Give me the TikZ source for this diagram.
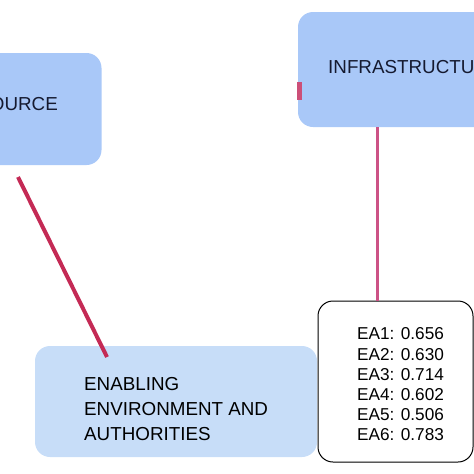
\documentclass[tikz,border=0pt]{standalone}
\usepackage{fontspec}
\setmainfont{Liberation Sans}
\definecolor{boxblue}{HTML}{A9C8F8}
\definecolor{boxlight}{HTML}{C7DDF8}
\definecolor{linecrim}{HTML}{C42A55}
\definecolor{linepink}{HTML}{CC5286}
\definecolor{tickpink}{HTML}{CC4F78}
\definecolor{txtnavy}{HTML}{151A30}
\tikzset{
  catbox/.style={rectangle, rounded corners=15pt, draw=none, inner sep=0pt},
  cattext/.style={inner sep=0pt, text=txtnavy, font=\fontsize{18.8}{24.7}\selectfont},
  eabox/.style={rectangle, rounded corners=15pt, draw=black, line width=1pt, fill=white, inner sep=0pt},
  eatext/.style={inner sep=0pt, align=left, text=black, font=\fontsize{17.2}{20.2}\selectfont},
  link/.style={line width=4pt, color=linecrim},
  vlink/.style={line width=3pt, color=linepink}
}
\begin{document}
\begin{tikzpicture}[x=1pt,y=-1pt]
\useasboundingbox (0,0) rectangle (474,474);
% boxes
\node[catbox, fill=boxblue, minimum width=194pt, minimum height=112pt] (res) at (4.5,109) {};
\node[cattext, anchor=east] (restext) at (58,104) {RESOURCE};
\node[catbox, fill=boxblue, minimum width=240pt, minimum height=115pt] (inf) at (418,69.5) {};
\node[cattext, anchor=west] (inftext) at (328,67) {INFRASTRUCTURE};
\fill[tickpink] (297,82) rectangle (302,100);
\node[catbox, fill=boxlight, minimum width=282pt, minimum height=111pt] (ena) at (176,401.5) {};
\node[cattext, text=black, align=left, anchor=west] (enatext) at (84,409)
  {ENABLING\\ENVIRONMENT AND\\AUTHORITIES};
\node[eabox, minimum width=155pt, minimum height=161pt] (ea) at (395.5,381.5) {};
\node[eatext, anchor=west] (eatxt) at (357,384.5)
  {EA1: 0.656\\EA2: 0.630\\EA3: 0.714\\EA4: 0.602\\EA5: 0.506\\EA6: 0.783};
% connectors
\coordinate (d1) at (18,177);
\coordinate (d2) at (107,357);
\draw[link] (d1) -- (d2);
\coordinate (vx) at (377,0);
\draw[vlink] (inf.south -| vx) -- (ea.north -| vx);
\end{tikzpicture}
\end{document}
